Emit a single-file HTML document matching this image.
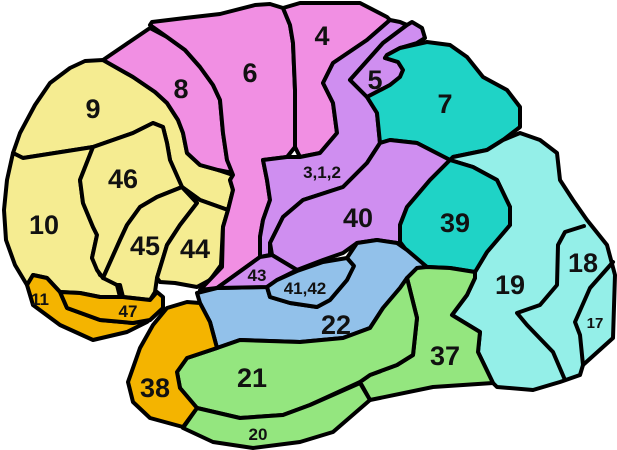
<!DOCTYPE html>
<html><head><style>
html,body{margin:0;padding:0;background:#fff;width:617px;height:450px;overflow:hidden}
svg{display:block}
text{font-family:"Liberation Sans",sans-serif;font-weight:bold;fill:#111;text-anchor:middle}
.b{font-size:27px}.s{font-size:17px}.xs{font-size:15px}
</style></head><body>
<svg width="617" height="450" viewBox="0 0 617 450">
<g stroke="#000" stroke-width="4" stroke-linejoin="round" stroke-linecap="round">
<polygon fill="#f5ec91" points="13,153 20,133 35,105 50,83 70,68 85,61 103,60 133,77 155,92 167,103 178,120 183,133 187,153 200,165 218,170 233,175 230,180 233,190 228,210 200,200 182,187 170,160 167,143 163,127 153,123 133,133 93,147 23,158"/>
<polygon fill="#f5ec91" points="13,153 23,158 93,147 80,180 83,203 93,227 97,235 92,258 100,275 117,285 120,297 100,297 80,293 60,292 47,278 33,275 27,285 15,265 6,240 4,210 7,180"/>
<polygon fill="#f5ec91" points="93,147 133,133 153,123 163,127 167,143 170,160 182,187 157,197 140,207 127,225 120,240 103,278 97,270 92,258 97,235 93,227 83,203 80,180"/>
<polygon fill="#f5ec91" points="182,187 197,203 180,225 167,245 157,278 155,292 150,300 123,297 120,285 117,285 103,278 120,240 127,225 140,207 157,197"/>
<polygon fill="#f5ec91" points="182,187 200,200 228,210 223,227 221,265 210,280 197,287 175,283 160,282 157,278 167,245 180,225 197,203"/>
<polygon fill="#f18fe3" points="103,60 125,45 150,28 167,37 185,50 200,67 213,85 220,100 223,133 227,160 233,173 218,170 200,165 187,153 183,133 178,120 167,103 155,92 133,77"/>
<polygon fill="#f18fe3" points="150,25 152,22 185,18 220,14 255,5 270,4 283,8 290,25 293,43 295,90 295,147 287,157 263,160 267,180 270,200 263,220 260,237 260,257 217,288 200,290 222,267 223,227 228,210 233,190 230,180 233,175 227,160 223,133 220,100 213,85 200,67 185,50 167,37"/>
<polygon fill="#f18fe3" points="283,8 300,3 360,3 387,17 390,20 367,40 333,63 323,83 333,103 337,133 320,153 300,157 295,147 295,90 293,43 290,25"/>
<polygon fill="#cf8ef0" points="390,20 400,22 407,25 383,43 350,80 367,97 377,113 380,143 367,163 343,187 303,200 283,217 270,243 270,255 260,257 260,237 263,220 270,200 267,180 263,160 287,157 300,157 320,153 337,133 333,103 323,83 333,63 367,40"/>
<polygon fill="#cf8ef0" points="407,25 412,22 422,28 425,38 417,43 400,48 387,55 385,58 398,62 403,70 400,77 390,85 367,97 350,80 383,43"/>
<polygon fill="#1fd3c6" points="387,55 400,48 427,42 450,45 467,57 483,77 507,90 520,107 520,127 503,140 487,150 453,157 450,160 417,143 390,140 380,143 377,113 367,97 390,85 400,77 403,70 398,62 385,58"/>
<polygon fill="#cf8ef0" points="380,143 390,140 417,143 450,160 430,180 407,207 400,225 400,242 407,250 397,243 377,240 357,243 343,253 323,260 297,270 272,255 270,243 283,217 303,200 343,187 367,163"/>
<polygon fill="#94efe8" points="450,160 453,157 487,150 503,140 520,133 540,140 557,153 560,180 573,200 587,220 607,245 615,275 613,338 583,365 580,375 560,382 533,390 497,387 493,383 478,352 480,332 452,315 467,295 475,278 475,272 487,252 510,225 510,207 497,180 473,167"/>
<polygon fill="#1fd3c6" points="450,160 473,167 497,180 510,207 510,225 487,252 475,272 450,268 427,267 410,255 400,242 400,225 407,207 430,180"/>
<polygon fill="#92c1ea" points="197,293 217,288 267,287 270,297 290,303 317,307 330,300 347,280 353,267 347,258 357,243 377,240 397,243 407,250 427,267 417,268 407,278 400,288 383,308 370,328 343,338 300,342 240,340 217,348 210,322 200,303"/>
<polygon fill="#cf8ef0" points="217,288 260,257 272,255 297,270 277,280 267,287"/>
<polygon fill="#92c1ea" points="267,287 277,280 297,271 323,262 347,258 354,266 347,280 330,300 317,307 290,303 270,297"/>
<polygon fill="#94e67f" points="407,278 417,268 427,267 450,268 475,272 475,278 467,295 452,315 480,332 478,352 493,383 433,387 370,400 360,382 370,375 397,365 413,355 417,318"/>
<polygon fill="#94e67f" points="217,348 240,340 300,342 343,338 370,328 383,308 400,288 407,278 417,318 413,355 397,365 370,375 360,382 310,405 283,415 240,418 197,408 180,388 177,372 187,358"/>
<polygon fill="#94e67f" points="197,408 240,418 283,415 310,405 360,383 370,400 333,432 300,442 253,448 213,442 183,428"/>
<polygon fill="#f4b400" points="167,308 187,302 200,303 210,322 217,348 187,358 177,372 180,388 197,408 183,427 150,418 133,402 128,382 140,348 153,325"/>
<polygon fill="#f4b400" points="27,285 33,275 47,278 60,292 67,308 100,320 133,323 150,320 163,308 147,322 127,332 93,340 60,325 33,305"/>
<polygon fill="#f4b400" points="60,292 80,293 100,297 123,297 150,300 157,292 163,297 163,308 150,320 133,323 100,320 67,308"/>
<polyline fill="none" points="584,226 565,232 558,245 557,285 540,305 517,313 527,325 553,352 565,380"/>
<polyline fill="none" points="613,262 590,288 575,322 580,335 583,365"/>
</g>
<text class="b" x="93" y="118">9</text>
<text class="b" x="181" y="98">8</text>
<text class="b" x="250" y="82">6</text>
<text class="b" x="322" y="45">4</text>
<text class="b" x="375" y="89">5</text>
<text class="b" x="445" y="113">7</text>
<text class="s" x="322" y="178">3,1,2</text>
<text class="b" x="358" y="227">40</text>
<text class="b" x="455" y="232">39</text>
<text class="b" x="123" y="188">46</text>
<text class="b" x="44" y="234">10</text>
<text class="b" x="145" y="255">45</text>
<text class="b" x="195" y="258">44</text>
<text class="s" x="257" y="281">43</text>
<text class="s" x="305" y="294">41,42</text>
<text class="b" x="336" y="334">22</text>
<text class="b" x="510" y="294">19</text>
<text class="b" x="583" y="272">18</text>
<text class="xs" x="595" y="328">17</text>
<text class="b" x="445" y="365">37</text>
<text class="b" x="252" y="387">21</text>
<text class="b" x="155" y="397">38</text>
<text class="s" x="258" y="440">20</text>
<text class="s" x="40" y="305">11</text>
<text class="s" x="128" y="317">47</text>
</svg>
</body></html>
